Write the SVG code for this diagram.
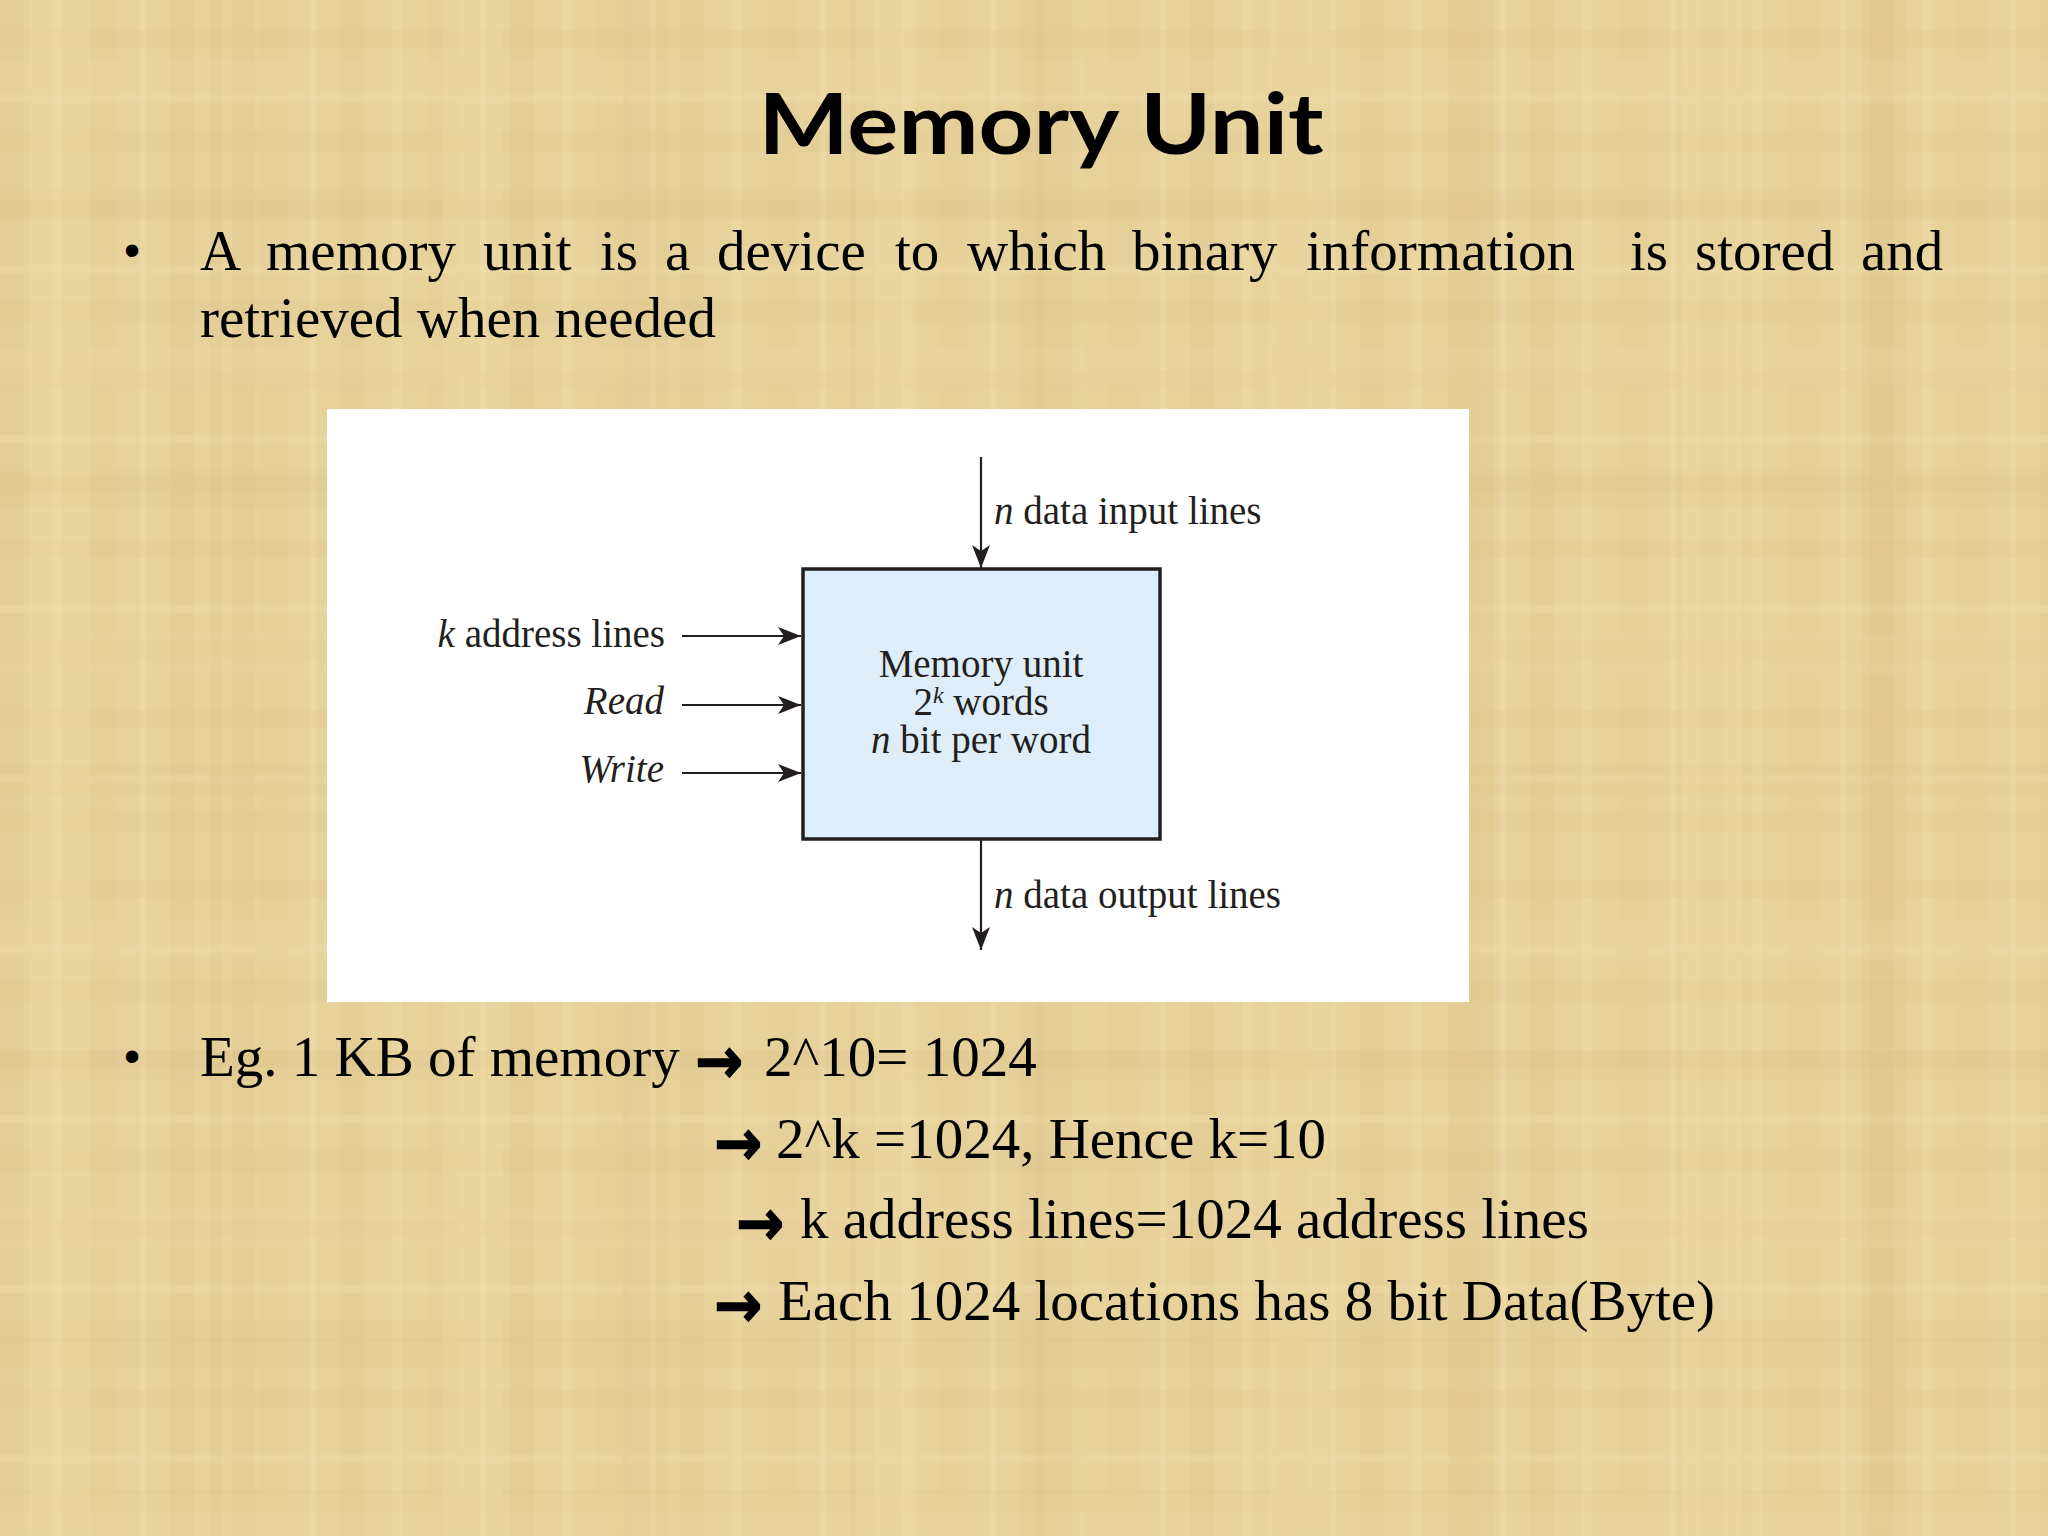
<svg xmlns="http://www.w3.org/2000/svg" width="2048" height="1536" viewBox="0 0 2048 1536">
<style>
.body{font-family:"Liberation Serif","Times New Roman",serif;font-size:57px;fill:#000}
.bul{font-family:"Liberation Sans",Arial,sans-serif;font-size:46px;fill:#000}
.arr{font-family:"DejaVu Sans",sans-serif;font-weight:bold;font-size:64px;fill:#000;stroke:#000;stroke-width:1.5}
.dg{font-family:"Liberation Serif","Times New Roman",serif;font-size:39px;fill:#231f20}
.it{font-style:italic}
.wire{stroke:#231f20;stroke-width:2.2;fill:none}
</style>
<defs>
<pattern id="tex" width="170" height="170" patternUnits="userSpaceOnUse">
<rect width="170" height="170" fill="#E7D29C"/>
<rect x="0" y="0" width="24" height="170" fill="#D9BD80" opacity="0.18"/>
<rect x="52" y="0" width="10" height="170" fill="#F3E2B0" opacity="0.25"/>
<rect x="88" y="0" width="30" height="170" fill="#DCC287" opacity="0.15"/>
<rect x="140" y="0" width="6" height="170" fill="#F6E8BC" opacity="0.25"/>
<rect x="0" y="30" width="170" height="18" fill="#D6BA7E" opacity="0.12"/>
<rect x="0" y="95" width="170" height="8" fill="#F4E4B4" opacity="0.22"/>
<rect x="0" y="130" width="170" height="22" fill="#DABF84" opacity="0.12"/>
</pattern>
<pattern id="tex2" width="413" height="287" patternUnits="userSpaceOnUse">
<rect x="30" y="0" width="60" height="287" fill="#F2E2B2" opacity="0.18"/>
<rect x="210" y="0" width="45" height="287" fill="#D4B97C" opacity="0.14"/>
<rect x="0" y="60" width="413" height="40" fill="#F0DFAE" opacity="0.14"/>
<rect x="0" y="190" width="413" height="30" fill="#D8BD82" opacity="0.12"/>
</pattern>
<marker id="ah" markerUnits="userSpaceOnUse" markerWidth="26" markerHeight="20" refX="23" refY="9" orient="auto">
<path d="M0,0 L23,9 L0,18 L6,9 z" fill="#231f20"/>
</marker>
</defs>
<rect width="2048" height="1536" fill="url(#tex)"/>
<rect width="2048" height="1536" fill="url(#tex2)"/>

<text x="1041" y="154" text-anchor="middle" font-family="Lato,'Open Sans',sans-serif" font-weight="bold" font-size="84" textLength="565" lengthAdjust="spacingAndGlyphs" fill="#000">Memory Unit</text>

<g id="bullet1">
<text class="bul" x="124" y="266">•</text>
<text class="body" y="270"><tspan x="200">A</tspan><tspan x="266">memory</tspan><tspan x="483">unit</tspan><tspan x="600">is</tspan><tspan x="665">a</tspan><tspan x="717">device</tspan><tspan x="895">to</tspan><tspan x="967">which</tspan><tspan x="1132">binary</tspan><tspan x="1306">information</tspan><tspan x="1630">is</tspan><tspan x="1695">stored</tspan><tspan x="1861">and</tspan></text>
<text class="body" x="200" y="337">retrieved when needed</text>
</g>

<rect id="panel" x="327" y="409" width="1142" height="593" fill="#FFFFFF"/>

<g id="memory-unit">
<rect x="803" y="569" width="357" height="270" fill="#DDEEFA" stroke="#231f20" stroke-width="3.5"/>
<text class="dg" text-anchor="middle"><tspan x="981" y="677">Memory unit</tspan><tspan x="981" y="715">2<tspan class="it" font-size="24" dy="-12">k</tspan><tspan dy="12"> words</tspan></tspan><tspan x="981" y="753"><tspan class="it">n</tspan> bit per word</tspan></text>
</g>

<g id="label-input"><text class="dg" x="994" y="524"><tspan class="it">n</tspan> data input lines</text></g>
<g id="label-output"><text class="dg" x="994" y="908"><tspan class="it">n</tspan> data output lines</text></g>
<g id="label-address"><text class="dg" x="665" y="647" text-anchor="end"><tspan class="it">k</tspan> address lines</text></g>
<g id="label-read"><text class="dg it" x="664" y="714" text-anchor="end">Read</text></g>
<g id="label-write"><text class="dg it" x="664" y="782" text-anchor="end">Write</text></g>

<g id="connectors">
<line class="wire" x1="981" y1="457" x2="981" y2="568" marker-end="url(#ah)"/>
<line class="wire" x1="981" y1="840" x2="981" y2="950" marker-end="url(#ah)"/>
<line class="wire" x1="682" y1="636" x2="801" y2="636" marker-end="url(#ah)"/>
<line class="wire" x1="682" y1="705" x2="801" y2="705" marker-end="url(#ah)"/>
<line class="wire" x1="682" y1="773" x2="801" y2="773" marker-end="url(#ah)"/>
</g>

<g id="bullet2">
<text class="bul" x="124" y="1072">•</text>
<text class="body" y="1076"><tspan x="200">Eg. 1 KB of memory</tspan><tspan class="arr" x="695" dy="7" textLength="48" lengthAdjust="spacingAndGlyphs">→</tspan><tspan x="764" dy="-7">2^10= 1024</tspan></text>
<text class="body" y="1158"><tspan class="arr" x="714" dy="7" textLength="48" lengthAdjust="spacingAndGlyphs">→</tspan><tspan x="776" dy="-7">2^k =1024, Hence k=10</tspan></text>
<text class="body" y="1238"><tspan class="arr" x="736" dy="7" textLength="48" lengthAdjust="spacingAndGlyphs">→</tspan><tspan x="800" dy="-7">k address lines=1024 address lines</tspan></text>
<text class="body" y="1320"><tspan class="arr" x="714" dy="7" textLength="48" lengthAdjust="spacingAndGlyphs">→</tspan><tspan x="778" dy="-7">Each 1024 locations has 8 bit Data(Byte)</tspan></text>
</g>
</svg>
